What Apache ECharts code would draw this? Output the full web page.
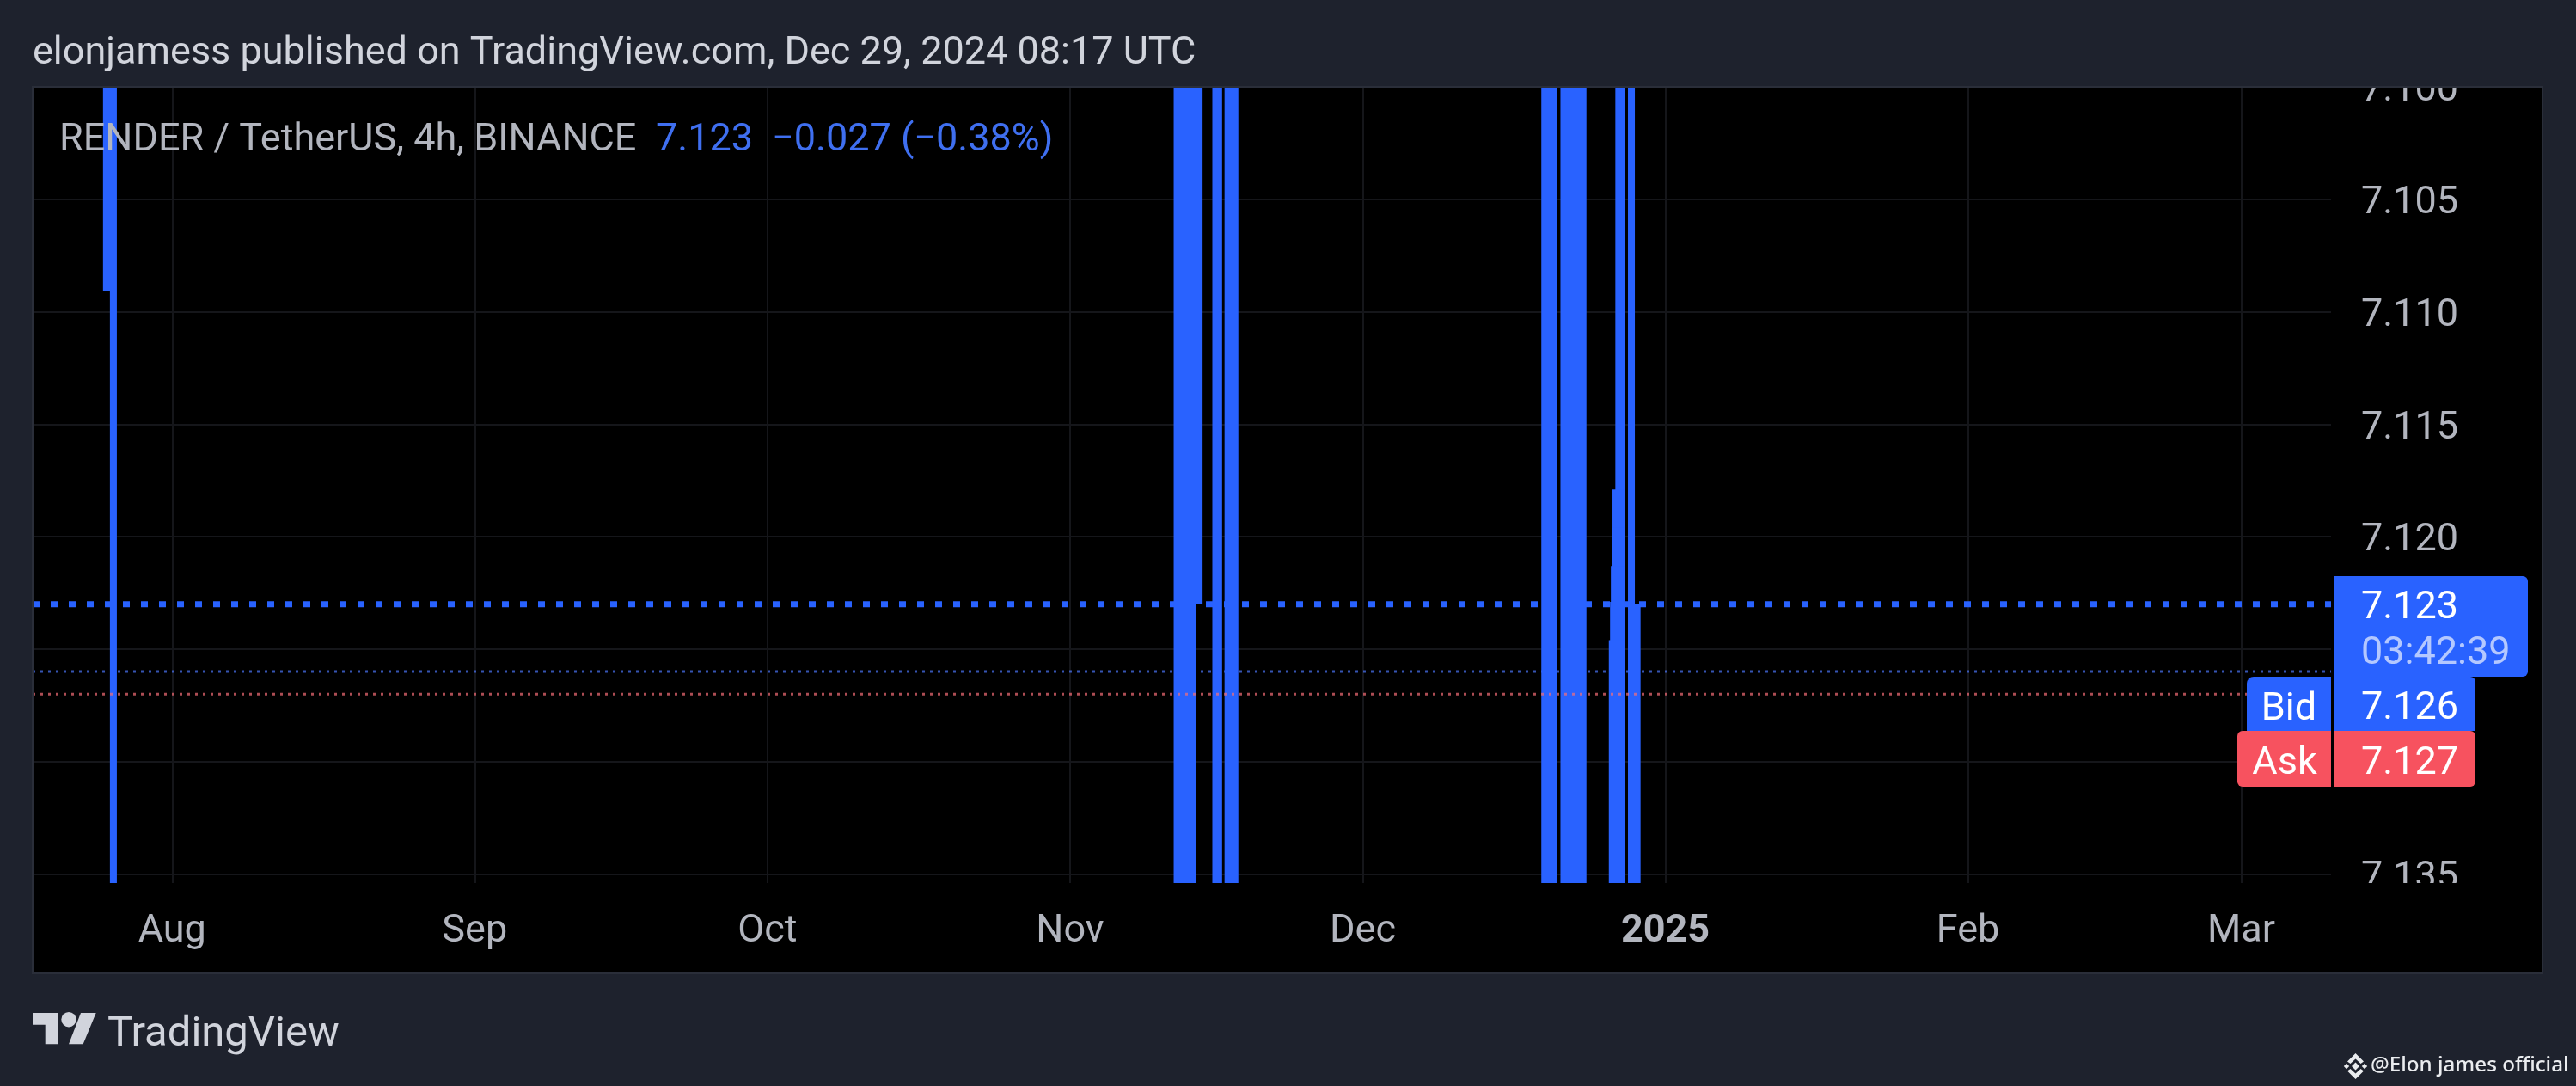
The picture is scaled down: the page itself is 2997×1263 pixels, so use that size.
<!DOCTYPE html>
<html>
<head>
<meta charset="utf-8">
<style>html,body{margin:0;padding:0;background:#1e222d}#c{width:2997px;height:1263px}</style>
<script src="https://cdn.jsdelivr.net/npm/echarts@6/dist/echarts.min.js"></script>
</head>
<body>
<div id="c"></div>
<script>
// ---- data ----
var segmentStart = ['2024-07-24T22:00Z','2024-07-25T15:00Z','2024-11-11T15:00Z','2024-11-11T15:00Z','2024-11-15T14:00Z','2024-11-16T20:00Z','2024-12-19T07:00Z','2024-12-21T06:00Z','2024-12-26T21:00Z','2024-12-26T14:00Z','2024-12-26T12:00Z','2024-12-26T10:00Z','2024-12-26T08:00Z','2024-12-26T05:00Z','2024-12-28T04:00Z','2024-12-28T04:00Z'];
var segmentEnd   = ['2024-07-26T08:00Z','2024-07-26T08:00Z','2024-11-14T14:00Z','2024-11-13T22:00Z','2024-11-16T14:00Z','2024-11-18T06:00Z','2024-12-20T22:00Z','2024-12-23T22:00Z','2024-12-27T20:00Z','2024-12-27T20:00Z','2024-12-27T20:00Z','2024-12-27T20:00Z','2024-12-27T20:00Z','2024-12-27T20:00Z','2024-12-28T21:00Z','2024-12-29T11:00Z'];
var segmentTop   = [7.1, 7.1091, 7.1, 7.123, 7.1, 7.1, 7.1, 7.1, 7.1, 7.1179, 7.1196, 7.1213, 7.1229, 7.1246, 7.1, 7.123];
var segmentBottom= [7.1091, 7.1354, 7.123, 7.1354, 7.1354, 7.1354, 7.1354, 7.1354, 7.1354, 7.1354, 7.1354, 7.1354, 7.1354, 7.1354, 7.123, 7.1354];
var lastPrice = 7.123, bidPrice = 7.126, askPrice = 7.127;
var shownTicks = ['7.100','7.105','7.110','7.115','7.120','7.135'];
var titleText = 'elonjamess published on TradingView.com, Dec 29, 2024 08:17 UTC';
var symbolText = 'RENDER / TetherUS, 4h, BINANCE';
var changeText = '\u22120.027 (\u22120.38%)';
var countdownText = '03:42:39';
var brandText = 'TradingView';
var watermarkText = '@Elon james official';
var axisStart = '2024-07-17T17:00Z', axisEnd = '2025-03-10T05:00Z';
var priceMin = 7.1, priceMax = 7.1354;

var BG='#1e222d', BLUE='#2962ff', RED='#f7525f', FONT='Roboto, sans-serif';
var rows = segmentStart.map(function(s,i){return [Date.parse(s),Date.parse(segmentEnd[i]),segmentTop[i],segmentBottom[i]];});
var tMin = Date.parse(axisStart), tMax = Date.parse(axisEnd);

function txt(x,y,t,size,color,align,extra){
  var st={x:x,y:y,text:t,fill:color,font:(extra||'')+' '+size+'px '+FONT,textAlign:align||'left',textVerticalAlign:'middle'};
  return {type:'text',z:40,silent:true,style:st};
}
function box(x,y,w,h,fill,r,z){
  return {type:'rect',z:z===undefined?30:z,silent:true,shape:{x:x,y:y,width:w,height:h,r:r||0},style:{fill:fill}};
}
function poly(pts,fill){return {type:'polygon',z:40,silent:true,shape:{points:pts},style:{fill:fill}};}
function diamond(cx,cy,r,fill){return poly([[cx,cy-r],[cx+r,cy],[cx,cy+r],[cx-r,cy]],fill);}

var graphics = [
  {type:'rect',z:-1,silent:true,shape:{x:38,y:101,width:2920,height:1031},style:{fill:'#000'}},
  // clip the axis labels to the pane, as in the original
  box(2713,0,284,100,BG,0,20),
  box(2713,1027,245,104,'#000',0,20),
  {type:'rect',z:25,silent:true,shape:{x:38,y:101,width:2920,height:1031},style:{fill:'none',stroke:'#2a2e39',lineWidth:2}},
  // price tags
  box(2715,670,226,117,BLUE,[0,6,6,0]),
  box(2614,787,98,63,BLUE,[8,0,0,0]),
  box(2715,787,165,63,BLUE,[0,6,0,0]),
  box(2603,850,109,65,RED,[6,0,0,6]),
  box(2715,850,165,65,RED,[0,6,6,0]),
  txt(2747,708,lastPrice.toFixed(3),45,'#ffffff'),
  txt(2747,761,countdownText,45,'rgba(255,255,255,0.65)'),
  txt(2663,826,'Bid',45,'#ffffff','center'),
  txt(2747,825,bidPrice.toFixed(3),45,'#ffffff'),
  txt(2658,889,'Ask',45,'#ffffff','center'),
  txt(2747,889,askPrice.toFixed(3),45,'#ffffff'),
  // header and legend
  txt(38,63,titleText,45,'#d1d4dc'),
  txt(69,164,symbolText,45,'#b2b5be'),
  txt(763,164,lastPrice.toFixed(3),45,'#3f6ff0'),
  txt(898,164,changeText,45,'#3f6ff0'),
  // brand logo
  poly([[38,1178],[67.3,1178],[67.3,1214.3],[52.7,1214.3],[52.7,1191.7],[38,1191.7]],'#d1d4dc'),
  {type:'circle',z:40,silent:true,shape:{cx:80,cy:1185.7,r:8.7},style:{fill:'#d1d4dc'}},
  poly([[94,1178],[111.7,1178],[96.7,1214.3],[80,1214.3]],'#d1d4dc'),
  txt(125,1204,brandText,49,'#d1d4dc'),
  // watermark
  diamond(2740.5,1240,4.5,'#eaecef'),
  poly([[2740.5,1225],[2750,1234.5],[2746.5,1237],[2740.5,1231.5],[2734.5,1237],[2731,1234.5]],'#eaecef'),
  poly([[2740.5,1255],[2750,1245.5],[2746.5,1243],[2740.5,1248.5],[2734.5,1243],[2731,1245.5]],'#eaecef'),
  diamond(2730,1240,3.2,'#eaecef'),
  diamond(2751,1240,3.2,'#eaecef'),
  {type:'text',z:40,silent:true,style:{x:2758,y:1239,text:watermarkText,fill:'#eaecef',font:'500 24.2px "Noto Sans", sans-serif',textAlign:'left',textVerticalAlign:'middle'}}
];

function level(name,price,width,dash,color,z){
  return {name:name,type:'line',z:z,silent:true,symbol:'none',animation:false,
    data:[[tMin,price],[tMax,price]],
    lineStyle:{color:color,width:width,type:dash}};
}

var chart = echarts.init(document.getElementById('c'),null,{renderer:'canvas'});
chart.setOption({
  animation:false,
  useUTC:true,
  backgroundColor:BG,
  textStyle:{fontFamily:FONT},
  grid:{left:38,top:101,width:2674,height:926,containLabel:false},
  xAxis:{
    type:'time',min:tMin,max:tMax,
    minInterval:28*86400000,maxInterval:31*86400000,
    axisLine:{show:false},axisTick:{show:false},
    splitLine:{show:true,showMinLine:false,showMaxLine:false,lineStyle:{color:'#15161a',width:2}},
    axisLabel:{
      color:'#b2b5be',fontSize:45,fontFamily:FONT,margin:34,showMinLabel:false,showMaxLabel:false,hideOverlap:false,
      formatter:{year:'{b|{yyyy}}',month:'{MMM}',day:'',hour:'',minute:'',second:'',millisecond:'',none:''},
      rich:{b:{fontWeight:'bold',fontSize:45,color:'#b2b5be',fontFamily:FONT}}
    }
  },
  yAxis:{
    type:'value',position:'right',inverse:true,min:priceMin,max:priceMax,interval:0.005,
    axisLine:{show:false},axisTick:{show:false},
    splitLine:{show:true,showMinLine:false,showMaxLine:false,lineStyle:{color:'#15161a',width:2}},
    axisLabel:{
      color:'#b2b5be',fontSize:45,fontFamily:FONT,margin:35,showMaxLabel:false,
      formatter:function(v){var s=v.toFixed(3);return shownTicks.indexOf(s)>=0?'{t|'+s+'}':'';},
      rich:{t:{color:'#b2b5be',fontSize:45,fontFamily:FONT,padding:[10,0,0,0]}}
    }
  },
  graphic:graphics,
  series:[
    {name:'RENDER / TetherUS',type:'custom',z:3,clip:true,silent:true,
     encode:{x:[0,1],y:[2,3]},
     data:rows,
     renderItem:function(params,api){
       var a=api.coord([api.value(0),api.value(2)]), b=api.coord([api.value(1),api.value(3)]);
       return {type:'rect',shape:{x:a[0],y:a[1],width:b[0]-a[0],height:b[1]-a[1]},style:{fill:BLUE}};
     }},
    level('Last',lastPrice,7,[8,13],BLUE,2),
    level('Bid',bidPrice,3,[3,6],'rgba(77,120,255,0.7)',2),
    level('Ask',askPrice,3,[3,6],'rgba(247,110,120,0.7)',5)
  ]
});
</script>
</body>
</html>
